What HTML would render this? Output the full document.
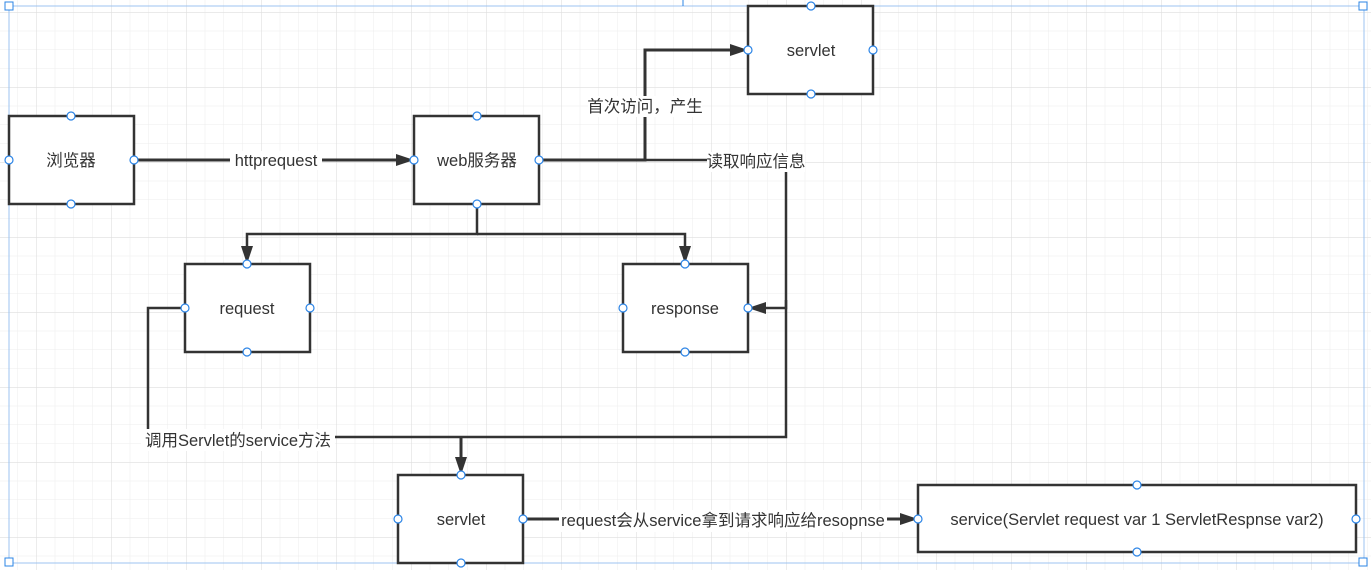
<!DOCTYPE html>
<html><head><meta charset="utf-8"><style>
html,body{margin:0;padding:0;background:#fff}
svg{display:block}
text{font-family:"Liberation Sans","Noto Sans CJK SC",sans-serif;font-size:16.5px;fill:#333}
</style></head><body>
<svg width="1371" height="570" viewBox="0 0 1371 570" xmlns="http://www.w3.org/2000/svg">
<defs>
<pattern id="g1" x="36" y="12" width="18.75" height="18.75" patternUnits="userSpaceOnUse">
<path d="M0 0H18.75M0 0V18.75" stroke="#ececec" stroke-width="1" fill="none"/>
</pattern>
<pattern id="g2" x="36" y="12" width="75" height="75" patternUnits="userSpaceOnUse">
<path d="M0 0H75M0 0V75" stroke="#dedede" stroke-width="1.2" fill="none"/>
</pattern>
<marker id="b" markerWidth="18" markerHeight="12" refX="17" refY="6" orient="auto" markerUnits="userSpaceOnUse" viewBox="0 0 18 12">
<path d="M0 0L18 6L0 12Z" fill="#333"/>
</marker>
</defs>
<rect width="1371" height="570" fill="url(#g1)"/>
<rect width="1371" height="570" fill="url(#g2)"/>
<rect x="9" y="6" width="1355" height="557" fill="none" stroke="#9cc3f0" stroke-width="1"/>
<rect x="5" y="2" width="8" height="8" fill="#fff" stroke="#2b84e6"/>
<rect x="1359" y="558" width="8" height="8" fill="#fff" stroke="#2b84e6"/>
<rect x="5" y="558" width="8" height="8" fill="#fff" stroke="#2b84e6"/>
<rect x="1359" y="2" width="8" height="8" fill="#fff" stroke="#2b84e6"/>
<line x1="683" y1="0" x2="683" y2="6" stroke="#2b84e6"/>

<g fill="none" stroke="#333" stroke-width="3">
<path d="M134 160H413" marker-end="url(#b)"/>
<path d="M539 160H645V50H747" marker-end="url(#b)"/>
<path d="M539 160H786V308H749" stroke-width="2.5" marker-end="url(#b)"/>
<path d="M786 300V437H148V308H185" stroke-width="2.5"/>
<path d="M461 437V474" marker-end="url(#b)"/>
<path d="M477 204V234H247V263" stroke-width="2.5" marker-end="url(#b)"/>
<path d="M477 234H685V263" stroke-width="2.5" marker-end="url(#b)"/>
<path d="M523 519H917" marker-end="url(#b)"/>
</g>

<g fill="#fff" stroke="#333" stroke-width="2.5">
<rect x="9" y="116" width="125" height="88"/>
<rect x="414" y="116" width="125" height="88"/>
<rect x="748" y="6" width="125" height="88"/>
<rect x="185" y="264" width="125" height="88"/>
<rect x="623" y="264" width="125" height="88"/>
<rect x="398" y="475" width="125" height="88"/>
<rect x="918" y="485" width="438" height="67"/>
</g>

<g fill="#fff" stroke="#2b84e6" stroke-width="1.2">
<circle cx="71" cy="116" r="4"/><circle cx="71" cy="204" r="4"/><circle cx="9" cy="160" r="4"/><circle cx="134" cy="160" r="4"/>
<circle cx="477" cy="116" r="4"/><circle cx="477" cy="204" r="4"/><circle cx="414" cy="160" r="4"/><circle cx="539" cy="160" r="4"/>
<circle cx="811" cy="6" r="4"/><circle cx="811" cy="94" r="4"/><circle cx="748" cy="50" r="4"/><circle cx="873" cy="50" r="4"/>
<circle cx="247" cy="264" r="4"/><circle cx="247" cy="352" r="4"/><circle cx="185" cy="308" r="4"/><circle cx="310" cy="308" r="4"/>
<circle cx="685" cy="264" r="4"/><circle cx="685" cy="352" r="4"/><circle cx="623" cy="308" r="4"/><circle cx="748" cy="308" r="4"/>
<circle cx="461" cy="475" r="4"/><circle cx="461" cy="563" r="4"/><circle cx="398" cy="519" r="4"/><circle cx="523" cy="519" r="4"/>
<circle cx="1137" cy="485" r="4"/><circle cx="1137" cy="552" r="4"/><circle cx="918" cy="519" r="4"/><circle cx="1356" cy="519" r="4"/>
</g>

<g fill="#fff">
<rect x="230" y="151" width="92" height="19"/>
<rect x="588" y="96" width="114" height="21"/>
<rect x="707" y="152" width="98" height="20"/>
<rect x="141" y="429" width="194" height="22"/>
<rect x="559" y="510" width="328" height="22"/>
</g>

<g text-anchor="middle">
<text x="71" y="166">浏览器</text>
<text x="477" y="166">web服务器</text>
<text x="811" y="56">servlet</text>
<text x="247" y="314">request</text>
<text x="685" y="314">response</text>
<text x="461" y="525">servlet</text>
<text x="1137" y="525">service(Servlet request var 1 ServletRespnse var2)</text>
<text x="276" y="166">httprequest</text>
<text x="645" y="112">首次访问，产生</text>
<text x="756" y="167">读取响应信息</text>
<text x="238" y="446">调用Servlet的service方法</text>
<text x="723" y="526">request会从service拿到请求响应给resopnse</text>
</g>
</svg>
</body></html>
